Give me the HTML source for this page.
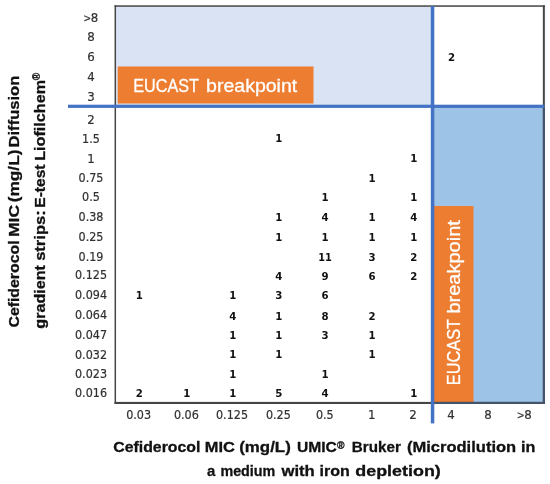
<!DOCTYPE html>
<html lang="en"><head><meta charset="utf-8"><title>Cefiderocol MIC comparison</title>
<style>
html,body{margin:0;padding:0;background:#fff;}
body{width:550px;height:484px;overflow:hidden;}
svg{display:block;}
text{font-family:"Liberation Sans",sans-serif;}
.lab{font-family:"DejaVu Sans","Liberation Sans",sans-serif;font-size:11.8px;fill:#303030;text-anchor:middle;stroke:#303030;stroke-width:0.2px;}
.dat{font-family:"DejaVu Sans","Liberation Sans",sans-serif;font-size:11.3px;font-weight:bold;fill:#111;text-anchor:middle;}
.ttl{font-weight:bold;fill:#111;text-anchor:start;stroke:#111;stroke-width:0.3px;}
.bp{fill:#fff;stroke:#fff;stroke-width:0.3px;}
</style></head><body>
<svg width="550" height="484" viewBox="0 0 550 484">
<rect x="0" y="0" width="550" height="484" fill="#fff"/>

<rect x="115.5" y="6.5" width="316" height="100" fill="#DAE3F3"/>
<rect x="432" y="106.5" width="112" height="296" fill="#9DC3E6"/>
<rect x="117.7" y="66.5" width="195.8" height="37" fill="#ED7D31"/>
<rect x="433.5" y="206" width="40" height="196.5" fill="#ED7D31"/>
<rect x="114.55" y="5.3" width="1.5" height="398.7" fill="#454545"/>
<rect x="114.55" y="5.3" width="430.3" height="1.5" fill="#454545"/>
<rect x="542.85" y="5.3" width="2" height="398.7" fill="#454545"/>
<rect x="114.55" y="401.9" width="430.3" height="2.1" fill="#454545"/>
<rect x="542.85" y="108" width="2" height="296" fill="#44546A"/>
<rect x="434.3" y="401.9" width="110.5" height="2.1" fill="#44546A"/>
<rect x="68" y="104.7" width="476.5" height="3.2" fill="#4472C4"/>
<rect x="430.8" y="6" width="3.5" height="417.4" fill="#4472C4"/>
<text class="bp" x="133.30" y="92.2" font-size="18.6" textLength="65.70" lengthAdjust="spacingAndGlyphs">EUCAST</text>
<text class="bp" x="206.10" y="92.2" font-size="18.6" textLength="91.10" lengthAdjust="spacingAndGlyphs">breakpoint</text>
<text class="bp" transform="translate(460,384.8) rotate(-90)" x="-0.40" y="0" font-size="18.6" textLength="66.20" lengthAdjust="spacingAndGlyphs">EUCAST</text>
<text class="bp" transform="translate(460,384.8) rotate(-90)" x="71.20" y="0" font-size="18.6" textLength="93.50" lengthAdjust="spacingAndGlyphs">breakpoint</text>
<text class="lab" x="91" y="21.6"><tspan font-family="Liberation Sans">&gt;</tspan>8</text>
<text class="lab" x="91" y="40.6">8</text>
<text class="lab" x="91" y="60.6">6</text>
<text class="lab" x="91" y="80.6">4</text>
<text class="lab" x="91" y="100.6">3</text>
<text class="lab" x="91" y="123.6">2</text>
<text class="lab" x="91" y="142.6" textLength="17.8" lengthAdjust="spacingAndGlyphs">1.5</text>
<text class="lab" x="91" y="162.6">1</text>
<text class="lab" x="91" y="182.1" textLength="24.9" lengthAdjust="spacingAndGlyphs">0.75</text>
<text class="lab" x="91" y="201.1" textLength="17.8" lengthAdjust="spacingAndGlyphs">0.5</text>
<text class="lab" x="91" y="221.3" textLength="24.9" lengthAdjust="spacingAndGlyphs">0.38</text>
<text class="lab" x="91" y="240.6" textLength="24.9" lengthAdjust="spacingAndGlyphs">0.25</text>
<text class="lab" x="91" y="260.6" textLength="24.9" lengthAdjust="spacingAndGlyphs">0.19</text>
<text class="lab" x="91" y="279.3" textLength="32.0" lengthAdjust="spacingAndGlyphs">0.125</text>
<text class="lab" x="91" y="299.2" textLength="32.0" lengthAdjust="spacingAndGlyphs">0.094</text>
<text class="lab" x="91" y="319.1" textLength="32.0" lengthAdjust="spacingAndGlyphs">0.064</text>
<text class="lab" x="91" y="338.6" textLength="32.0" lengthAdjust="spacingAndGlyphs">0.047</text>
<text class="lab" x="91" y="358.6" textLength="32.0" lengthAdjust="spacingAndGlyphs">0.032</text>
<text class="lab" x="91" y="378.0" textLength="32.0" lengthAdjust="spacingAndGlyphs">0.023</text>
<text class="lab" x="91" y="397.0" textLength="32.0" lengthAdjust="spacingAndGlyphs">0.016</text>
<text class="lab" x="138.6" y="418.5" textLength="24.9" lengthAdjust="spacingAndGlyphs">0.03</text>
<text class="lab" x="186.4" y="418.5" textLength="24.9" lengthAdjust="spacingAndGlyphs">0.06</text>
<text class="lab" x="232.0" y="418.5" textLength="32.0" lengthAdjust="spacingAndGlyphs">0.125</text>
<text class="lab" x="278.4" y="418.5" textLength="24.9" lengthAdjust="spacingAndGlyphs">0.25</text>
<text class="lab" x="324.8" y="418.5" textLength="17.8" lengthAdjust="spacingAndGlyphs">0.5</text>
<text class="lab" x="371.8" y="418.5">1</text>
<text class="lab" x="413.0" y="418.5">2</text>
<text class="lab" x="451.0" y="418.5">4</text>
<text class="lab" x="488.0" y="418.5">8</text>
<text class="lab" x="524.5" y="418.5"><tspan font-family="Liberation Sans">&gt;</tspan>8</text>
<text class="dat" x="451.5" y="60.5" textLength="7.1" lengthAdjust="spacingAndGlyphs">2</text>
<text class="dat" x="278.7" y="142.0" textLength="7.1" lengthAdjust="spacingAndGlyphs">1</text>
<text class="dat" x="413.8" y="162.0" textLength="7.1" lengthAdjust="spacingAndGlyphs">1</text>
<text class="dat" x="372.0" y="182.3" textLength="7.1" lengthAdjust="spacingAndGlyphs">1</text>
<text class="dat" x="325.0" y="201.3" textLength="7.1" lengthAdjust="spacingAndGlyphs">1</text>
<text class="dat" x="413.8" y="201.3" textLength="7.1" lengthAdjust="spacingAndGlyphs">1</text>
<text class="dat" x="278.7" y="221.2" textLength="7.1" lengthAdjust="spacingAndGlyphs">1</text>
<text class="dat" x="325.0" y="221.2" textLength="7.1" lengthAdjust="spacingAndGlyphs">4</text>
<text class="dat" x="372.0" y="221.2" textLength="7.1" lengthAdjust="spacingAndGlyphs">1</text>
<text class="dat" x="413.8" y="221.2" textLength="7.1" lengthAdjust="spacingAndGlyphs">4</text>
<text class="dat" x="278.7" y="240.6" textLength="7.1" lengthAdjust="spacingAndGlyphs">1</text>
<text class="dat" x="325.0" y="240.6" textLength="7.1" lengthAdjust="spacingAndGlyphs">1</text>
<text class="dat" x="372.0" y="240.6" textLength="7.1" lengthAdjust="spacingAndGlyphs">1</text>
<text class="dat" x="413.8" y="240.6" textLength="7.1" lengthAdjust="spacingAndGlyphs">1</text>
<text class="dat" x="325.0" y="260.6" textLength="13.6" lengthAdjust="spacingAndGlyphs">11</text>
<text class="dat" x="372.0" y="260.6" textLength="7.1" lengthAdjust="spacingAndGlyphs">3</text>
<text class="dat" x="413.8" y="260.6" textLength="7.1" lengthAdjust="spacingAndGlyphs">2</text>
<text class="dat" x="278.7" y="279.7" textLength="7.1" lengthAdjust="spacingAndGlyphs">4</text>
<text class="dat" x="325.0" y="279.7" textLength="7.1" lengthAdjust="spacingAndGlyphs">9</text>
<text class="dat" x="372.0" y="279.7" textLength="7.1" lengthAdjust="spacingAndGlyphs">6</text>
<text class="dat" x="413.8" y="279.7" textLength="7.1" lengthAdjust="spacingAndGlyphs">2</text>
<text class="dat" x="139.4" y="299.3" textLength="7.1" lengthAdjust="spacingAndGlyphs">1</text>
<text class="dat" x="232.8" y="299.3" textLength="7.1" lengthAdjust="spacingAndGlyphs">1</text>
<text class="dat" x="278.7" y="299.3" textLength="7.1" lengthAdjust="spacingAndGlyphs">3</text>
<text class="dat" x="325.0" y="299.3" textLength="7.1" lengthAdjust="spacingAndGlyphs">6</text>
<text class="dat" x="232.8" y="319.7" textLength="7.1" lengthAdjust="spacingAndGlyphs">4</text>
<text class="dat" x="278.7" y="319.7" textLength="7.1" lengthAdjust="spacingAndGlyphs">1</text>
<text class="dat" x="325.0" y="319.7" textLength="7.1" lengthAdjust="spacingAndGlyphs">8</text>
<text class="dat" x="372.0" y="319.7" textLength="7.1" lengthAdjust="spacingAndGlyphs">2</text>
<text class="dat" x="232.8" y="338.7" textLength="7.1" lengthAdjust="spacingAndGlyphs">1</text>
<text class="dat" x="278.7" y="338.7" textLength="7.1" lengthAdjust="spacingAndGlyphs">1</text>
<text class="dat" x="325.0" y="338.7" textLength="7.1" lengthAdjust="spacingAndGlyphs">3</text>
<text class="dat" x="372.0" y="338.7" textLength="7.1" lengthAdjust="spacingAndGlyphs">1</text>
<text class="dat" x="232.8" y="358.2" textLength="7.1" lengthAdjust="spacingAndGlyphs">1</text>
<text class="dat" x="278.7" y="358.2" textLength="7.1" lengthAdjust="spacingAndGlyphs">1</text>
<text class="dat" x="372.0" y="358.2" textLength="7.1" lengthAdjust="spacingAndGlyphs">1</text>
<text class="dat" x="232.8" y="377.7" textLength="7.1" lengthAdjust="spacingAndGlyphs">1</text>
<text class="dat" x="325.0" y="377.7" textLength="7.1" lengthAdjust="spacingAndGlyphs">1</text>
<text class="dat" x="139.4" y="396.6" textLength="7.1" lengthAdjust="spacingAndGlyphs">2</text>
<text class="dat" x="186.9" y="396.6" textLength="7.1" lengthAdjust="spacingAndGlyphs">1</text>
<text class="dat" x="232.8" y="396.6" textLength="7.1" lengthAdjust="spacingAndGlyphs">1</text>
<text class="dat" x="278.7" y="396.6" textLength="7.1" lengthAdjust="spacingAndGlyphs">5</text>
<text class="dat" x="325.0" y="396.6" textLength="7.1" lengthAdjust="spacingAndGlyphs">4</text>
<text class="dat" x="413.8" y="396.6" textLength="7.1" lengthAdjust="spacingAndGlyphs">1</text>
<text class="ttl" font-size="15.3" x="113.28" y="451.8" textLength="87.09" lengthAdjust="spacingAndGlyphs">Cefiderocol</text>
<text class="ttl" font-size="15.3" x="204.75" y="451.8" textLength="30.09" lengthAdjust="spacingAndGlyphs">MIC</text>
<text class="ttl" font-size="15.3" x="239.22" y="451.8" textLength="51.56" lengthAdjust="spacingAndGlyphs">(mg/L)</text>
<text class="ttl" font-size="15.3" x="296.91" y="451.8" textLength="39.99" lengthAdjust="spacingAndGlyphs">UMIC</text>
<text class="ttl" font-size="10.2" x="337.0" y="448.6">®</text>
<text class="ttl" font-size="15.3" x="351.83" y="451.8" textLength="49.00" lengthAdjust="spacingAndGlyphs">Bruker</text>
<text class="ttl" font-size="15.3" x="406.96" y="451.8" textLength="109.24" lengthAdjust="spacingAndGlyphs">(Microdilution</text>
<text class="ttl" font-size="15.3" x="521.08" y="451.8" textLength="14.39" lengthAdjust="spacingAndGlyphs">in</text>
<text class="ttl" font-size="15.3" x="206.99" y="475.8" textLength="8.31" lengthAdjust="spacingAndGlyphs">a</text>
<text class="ttl" font-size="15.3" x="220.40" y="475.8" textLength="54.93" lengthAdjust="spacingAndGlyphs">medium</text>
<text class="ttl" font-size="15.3" x="281.43" y="475.8" textLength="33.37" lengthAdjust="spacingAndGlyphs">with</text>
<text class="ttl" font-size="15.3" x="319.60" y="475.8" textLength="30.28" lengthAdjust="spacingAndGlyphs">iron</text>
<text class="ttl" font-size="15.3" x="355.31" y="475.8" textLength="85.54" lengthAdjust="spacingAndGlyphs">depletion)</text>
<text class="ttl" font-size="15.3" transform="translate(18.8,327.56) rotate(-90)" textLength="87.12" lengthAdjust="spacingAndGlyphs">Cefiderocol</text>
<text class="ttl" font-size="15.3" transform="translate(18.8,236.95) rotate(-90)" textLength="32.03" lengthAdjust="spacingAndGlyphs">MIC</text>
<text class="ttl" font-size="15.3" transform="translate(18.8,202.19) rotate(-90)" textLength="52.60" lengthAdjust="spacingAndGlyphs">(mg/L)</text>
<text class="ttl" font-size="15.3" transform="translate(18.8,147.43) rotate(-90)" textLength="71.71" lengthAdjust="spacingAndGlyphs">Diffusion</text>
<text class="ttl" font-size="15.3" transform="translate(44.5,328.73) rotate(-90)" textLength="63.68" lengthAdjust="spacingAndGlyphs">gradient</text>
<text class="ttl" font-size="15.3" transform="translate(44.5,260.85) rotate(-90)" textLength="50.57" lengthAdjust="spacingAndGlyphs">strips:</text>
<text class="ttl" font-size="15.3" transform="translate(44.5,207.70) rotate(-90)" textLength="43.26" lengthAdjust="spacingAndGlyphs">E-test</text>
<text class="ttl" font-size="15.3" transform="translate(44.5,160.83) rotate(-90)" textLength="80.86" lengthAdjust="spacingAndGlyphs">Liofilchem</text>
<text class="ttl" font-size="10.2" transform="translate(39.6,80.2) rotate(-90)">®</text>
</svg></body></html>
